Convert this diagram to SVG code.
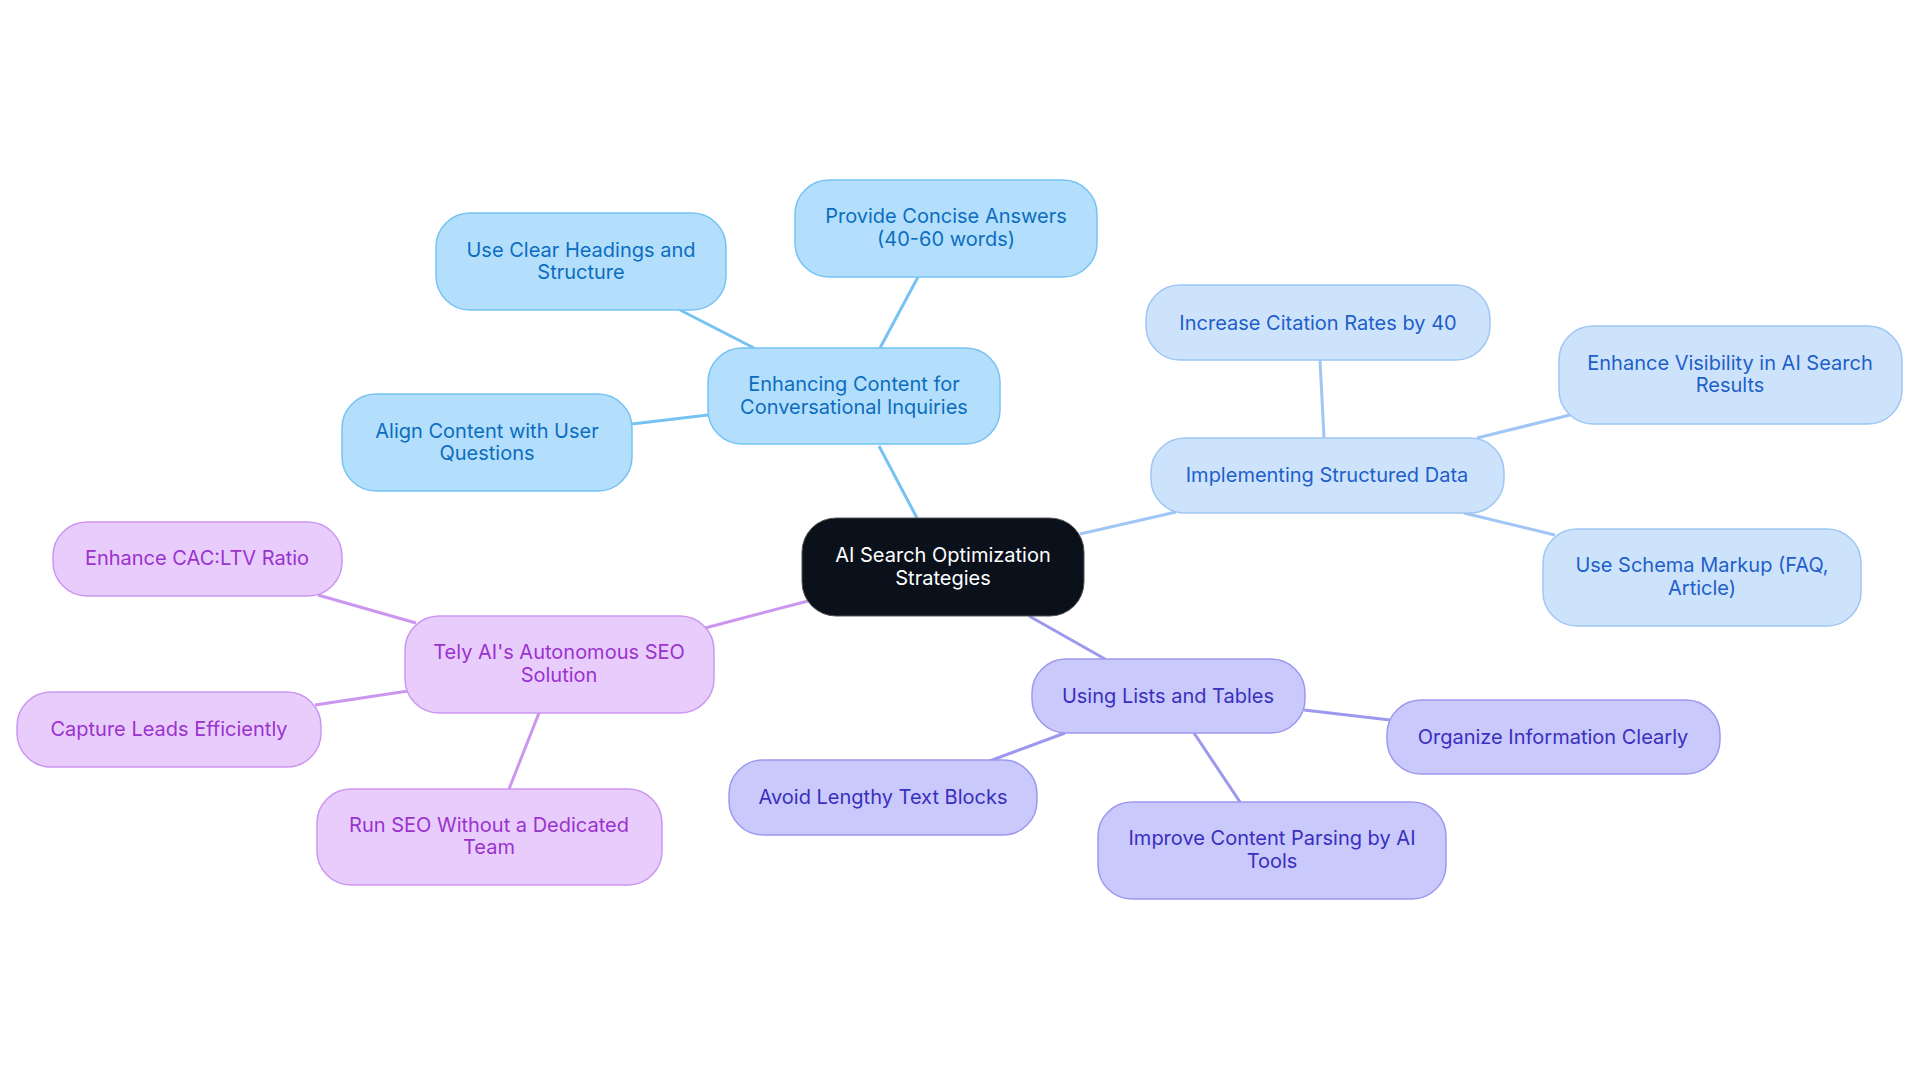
<svg xmlns="http://www.w3.org/2000/svg" width="1920" height="1083" viewBox="0 0 1920 1083">
<style>
text{font-family:Inter,"Noto Sans",sans-serif;font-size:20px;text-anchor:middle}
.b rect{fill:#b3dffc;stroke:#76c3f3;stroke-width:1.5}.b text{fill:#0c6dc0}
.s rect{fill:#cde3fc;stroke:#9fc6f4;stroke-width:1.5}.s text{fill:#1e5fc8}
.l rect{fill:#c9c9fb;stroke:#9d98ef;stroke-width:1.5}.l text{fill:#3a2fbe}
.t rect{fill:#e8cdfc;stroke:#cc96f0;stroke-width:1.5}.t text{fill:#9a32cf}
#edges line{stroke-width:3}
</style>
<rect width="1920" height="1083" fill="#fff"/>
<g id="edges">
<line x1="917" y1="518" x2="879" y2="446" stroke="#76c3f3"/>
<line x1="880" y1="348" x2="918" y2="277" stroke="#76c3f3"/>
<line x1="754" y1="348" x2="680" y2="310" stroke="#76c3f3"/>
<line x1="708" y1="415" x2="632" y2="424" stroke="#76c3f3"/>
<line x1="1080" y1="534" x2="1176" y2="512" stroke="#9fc6f4"/>
<line x1="1324" y1="438" x2="1320" y2="360" stroke="#9fc6f4"/>
<line x1="1477" y1="438" x2="1570" y2="415" stroke="#9fc6f4"/>
<line x1="1464" y1="513" x2="1555" y2="535" stroke="#9fc6f4"/>
<line x1="1029" y1="616" x2="1105" y2="659" stroke="#9d98ef"/>
<line x1="1304" y1="710" x2="1390" y2="720" stroke="#9d98ef"/>
<line x1="1065" y1="733" x2="987" y2="762" stroke="#9d98ef"/>
<line x1="1194" y1="733" x2="1240" y2="802" stroke="#9d98ef"/>
<line x1="808" y1="601" x2="705" y2="628" stroke="#cc96f0"/>
<line x1="416" y1="623" x2="318" y2="595" stroke="#cc96f0"/>
<line x1="408" y1="691" x2="315" y2="705" stroke="#cc96f0"/>
<line x1="539" y1="713" x2="509" y2="789" stroke="#cc96f0"/>
</g>
<g id="root"><rect x="802" y="518" width="282" height="98" rx="34" fill="#0b111b" stroke="#555" stroke-width="1"/><text x="943" y="562" fill="#fff">AI Search Optimization</text><text x="943" y="585" fill="#fff">Strategies</text></g>
<g id="n1" class="b"><rect x="708" y="348" width="292" height="96" rx="34"/><text x="854" y="391">Enhancing Content for</text><text x="854" y="414">Conversational Inquiries</text></g>
<g id="n2" class="b"><rect x="795" y="180" width="302" height="97" rx="34"/><text x="946" y="223">Provide Concise Answers</text><text x="946" y="246">(40-60 words)</text></g>
<g id="n3" class="b"><rect x="436" y="213" width="290" height="97" rx="34"/><text x="581" y="257">Use Clear Headings and</text><text x="581" y="279">Structure</text></g>
<g id="n4" class="b"><rect x="342" y="394" width="290" height="97" rx="34"/><text x="487" y="438">Align Content with User</text><text x="487" y="460">Questions</text></g>
<g id="n5" class="s"><rect x="1151" y="438" width="353" height="75" rx="34"/><text x="1327" y="482">Implementing Structured Data</text></g>
<g id="n6" class="s"><rect x="1146" y="285" width="344" height="75" rx="34"/><text x="1318" y="330">Increase Citation Rates by 40</text></g>
<g id="n7" class="s"><rect x="1559" y="326" width="343" height="98" rx="34"/><text x="1730" y="370">Enhance Visibility in AI Search</text><text x="1730" y="392">Results</text></g>
<g id="n8" class="s"><rect x="1543" y="529" width="318" height="97" rx="34"/><text x="1702" y="572">Use Schema Markup (FAQ,</text><text x="1702" y="595">Article)</text></g>
<g id="n9" class="l"><rect x="1032" y="659" width="273" height="74" rx="34"/><text x="1168" y="703">Using Lists and Tables</text></g>
<g id="n10" class="l"><rect x="1387" y="700" width="333" height="74" rx="34"/><text x="1553" y="744">Organize Information Clearly</text></g>
<g id="n11" class="l"><rect x="729" y="760" width="308" height="75" rx="34"/><text x="883" y="804">Avoid Lengthy Text Blocks</text></g>
<g id="n12" class="l"><rect x="1098" y="802" width="348" height="97" rx="34"/><text x="1272" y="845">Improve Content Parsing by AI</text><text x="1272" y="868">Tools</text></g>
<g id="n13" class="t"><rect x="405" y="616" width="309" height="97" rx="34"/><text x="559" y="659">Tely AI's Autonomous SEO</text><text x="559" y="682">Solution</text></g>
<g id="n14" class="t"><rect x="53" y="522" width="289" height="74" rx="34"/><text x="197" y="565">Enhance CAC:LTV Ratio</text></g>
<g id="n15" class="t"><rect x="17" y="692" width="304" height="75" rx="34"/><text x="169" y="736">Capture Leads Efficiently</text></g>
<g id="n16" class="t"><rect x="317" y="789" width="345" height="96" rx="34"/><text x="489" y="832">Run SEO Without a Dedicated</text><text x="489" y="854">Team</text></g>
</svg>
